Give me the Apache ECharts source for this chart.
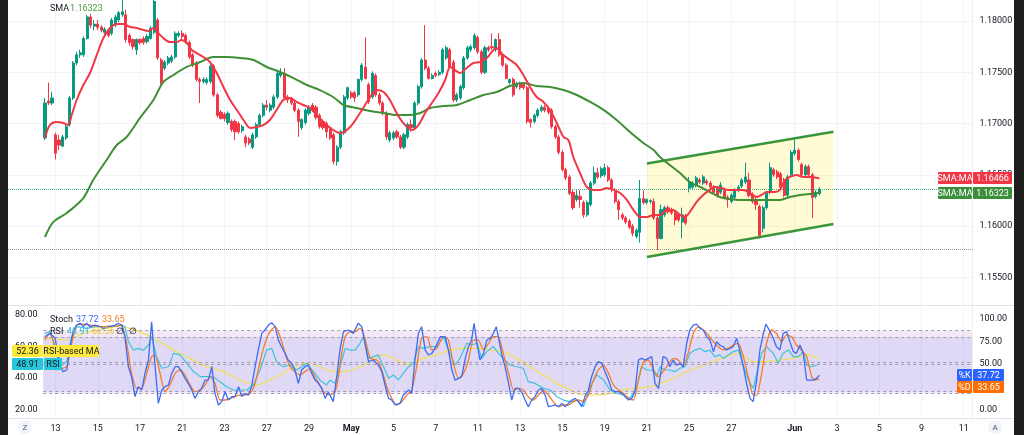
<!DOCTYPE html>
<html><head><meta charset="utf-8">
<script src="https://cdn.jsdelivr.net/npm/echarts@6/dist/echarts.min.js"></script>
<style>html,body{margin:0;padding:0;background:#fff;overflow:hidden}#c{width:1024px;height:435px}</style>
</head><body><div id="c"></div>
<script>
// ---------- DATA ----------
const N_SLOTS = 274;      // bar slots on the time axis (incl. future space)
const FIRST_BAR = 10;     // slot index of first visible candle
const tickIndex = [13,25,37,49,61,73,85,97,109,121,133,145,157,169,181,193,205,223,235,247,259,271];
const tickLabel = ['13','15','17','21','23','27','29','May','5','7','11','13','15','19','21','25','27','Jun','3','5','9','11'];
const monthLabels = ['May','Jun'];

// 4h candles: [open, close, low, high]
const ohlc = [
[1.1686,1.1720,1.1684,1.1725],[1.1722,1.1720,1.1718,1.1740],[1.1720,1.1725,1.1718,1.1731],[1.1689,1.1671,1.1665,1.1691],[1.1684,1.1679,1.1674,1.1689],
[1.1678,1.1687,1.1677,1.1689],[1.1686,1.1697,1.1684,1.1699],[1.1699,1.1725,1.1697,1.1727],[1.1725,1.1759,1.1723,1.1761],[1.1759,1.1767,1.1757,1.1770],
[1.1767,1.1769,1.1764,1.1772],[1.1767,1.1783,1.1765,1.1785],[1.1783,1.1804,1.1782,1.1806],[1.1804,1.1796,1.1793,1.1807],[1.1795,1.1797,1.1791,1.1801],
[1.1797,1.1794,1.1791,1.1801],[1.1794,1.1791,1.1789,1.1796],[1.1789,1.1792,1.1787,1.1794],[1.1791,1.1786,1.1784,1.1793],[1.1788,1.1801,1.1786,1.1803],
[1.1796,1.1804,1.1794,1.1806],[1.1801,1.1808,1.1799,1.1810],[1.1806,1.1809,1.1804,1.1821],[1.1806,1.1782,1.1779,1.1811],[1.1786,1.1779,1.1776,1.1788],
[1.1782,1.1775,1.1772,1.1783],[1.1772,1.1782,1.1767,1.1783],[1.1782,1.1779,1.1777,1.1783],[1.1783,1.1779,1.1777,1.1785],[1.1780,1.1785,1.1778,1.1787],
[1.1783,1.1793,1.1782,1.1795],[1.1789,1.1819,1.1787,1.1824],[1.1801,1.1764,1.1762,1.1803],[1.1762,1.1740,1.1738,1.1764],[1.1754,1.1760,1.1752,1.1762],
[1.1759,1.1764,1.1757,1.1766],[1.1761,1.1765,1.1759,1.1767],[1.1765,1.1788,1.1763,1.1790],[1.1786,1.1788,1.1784,1.1790],[1.1788,1.1785,1.1782,1.1791],
[1.1786,1.1780,1.1778,1.1788],[1.1779,1.1765,1.1763,1.1781],[1.1767,1.1757,1.1755,1.1769],[1.1759,1.1743,1.1741,1.1761],[1.1743,1.1741,1.1720,1.1745],
[1.1741,1.1743,1.1739,1.1745],[1.1740,1.1743,1.1738,1.1745],[1.1741,1.1756,1.1739,1.1758],[1.1756,1.1728,1.1726,1.1758],[1.1728,1.1708,1.1706,1.1730],
[1.1711,1.1705,1.1704,1.1713],[1.1709,1.1705,1.1702,1.1711],[1.1701,1.1710,1.1699,1.1712],[1.1702,1.1694,1.1692,1.1704],[1.1702,1.1692,1.1684,1.1704],
[1.1700,1.1692,1.1690,1.1702],[1.1693,1.1697,1.1691,1.1699],[1.1687,1.1681,1.1677,1.1689],[1.1685,1.1681,1.1679,1.1687],[1.1677,1.1689,1.1675,1.1691],
[1.1687,1.1699,1.1685,1.1701],[1.1699,1.1708,1.1697,1.1710],[1.1708,1.1718,1.1706,1.1720],[1.1718,1.1716,1.1713,1.1723],[1.1713,1.1718,1.1711,1.1720],
[1.1716,1.1726,1.1714,1.1728],[1.1726,1.1749,1.1724,1.1751],[1.1747,1.1750,1.1745,1.1754],[1.1749,1.1725,1.1723,1.1754],[1.1726,1.1723,1.1720,1.1728],
[1.1724,1.1720,1.1718,1.1726],[1.1720,1.1713,1.1711,1.1722],[1.1713,1.1702,1.1687,1.1715],[1.1696,1.1704,1.1694,1.1705],[1.1701,1.1713,1.1699,1.1715],
[1.1710,1.1716,1.1708,1.1718],[1.1718,1.1713,1.1711,1.1720],[1.1716,1.1706,1.1704,1.1718],[1.1708,1.1697,1.1695,1.1710],[1.1702,1.1696,1.1694,1.1704],
[1.1700,1.1692,1.1686,1.1702],[1.1696,1.1686,1.1684,1.1698],[1.1689,1.1663,1.1660,1.1691],[1.1663,1.1677,1.1659,1.1679],[1.1677,1.1692,1.1675,1.1694],
[1.1691,1.1726,1.1689,1.1728],[1.1725,1.1735,1.1723,1.1736],[1.1730,1.1726,1.1724,1.1732],[1.1730,1.1725,1.1721,1.1732],[1.1728,1.1743,1.1726,1.1744],
[1.1743,1.1757,1.1741,1.1759],[1.1755,1.1744,1.1743,1.1784],[1.1738,1.1721,1.1719,1.1740],[1.1726,1.1749,1.1724,1.1751],[1.1747,1.1728,1.1726,1.1749],
[1.1728,1.1720,1.1718,1.1730],[1.1720,1.1710,1.1708,1.1722],[1.1710,1.1687,1.1684,1.1712],[1.1684,1.1691,1.1682,1.1693],[1.1686,1.1691,1.1684,1.1693],
[1.1692,1.1687,1.1685,1.1694],[1.1687,1.1677,1.1675,1.1689],[1.1677,1.1689,1.1675,1.1691],[1.1687,1.1699,1.1685,1.1701],[1.1699,1.1696,1.1692,1.1704],
[1.1696,1.1720,1.1694,1.1722],[1.1720,1.1736,1.1718,1.1738],[1.1736,1.1762,1.1734,1.1764],[1.1762,1.1754,1.1752,1.1796],[1.1754,1.1744,1.1743,1.1756],
[1.1744,1.1747,1.1743,1.1749],[1.1749,1.1747,1.1745,1.1751],[1.1748,1.1750,1.1746,1.1752],[1.1750,1.1772,1.1748,1.1774],[1.1764,1.1774,1.1762,1.1776],
[1.1772,1.1755,1.1753,1.1774],[1.1760,1.1723,1.1721,1.1762],[1.1723,1.1728,1.1721,1.1730],[1.1725,1.1736,1.1723,1.1738],[1.1735,1.1764,1.1733,1.1766],
[1.1764,1.1774,1.1762,1.1776],[1.1772,1.1775,1.1770,1.1777],[1.1774,1.1786,1.1772,1.1788],[1.1784,1.1770,1.1768,1.1786],[1.1770,1.1750,1.1748,1.1772],
[1.1750,1.1774,1.1748,1.1776],[1.1774,1.1772,1.1770,1.1776],[1.1775,1.1774,1.1772,1.1788],[1.1772,1.1782,1.1770,1.1783],[1.1782,1.1767,1.1765,1.1788],
[1.1767,1.1757,1.1755,1.1769],[1.1757,1.1744,1.1743,1.1759],[1.1740,1.1743,1.1738,1.1744],[1.1743,1.1728,1.1726,1.1745],[1.1736,1.1739,1.1734,1.1741],
[1.1739,1.1735,1.1733,1.1741],[1.1738,1.1735,1.1733,1.1740],[1.1735,1.1702,1.1700,1.1737],[1.1704,1.1701,1.1696,1.1705],[1.1702,1.1708,1.1700,1.1710],
[1.1708,1.1713,1.1706,1.1715],[1.1713,1.1716,1.1711,1.1718],[1.1716,1.1713,1.1711,1.1718],[1.1715,1.1711,1.1709,1.1717],[1.1713,1.1697,1.1695,1.1715],
[1.1697,1.1687,1.1685,1.1699],[1.1687,1.1672,1.1670,1.1689],[1.1672,1.1655,1.1653,1.1674],[1.1655,1.1647,1.1645,1.1657],[1.1648,1.1632,1.1630,1.1650],
[1.1633,1.1618,1.1616,1.1635],[1.1626,1.1630,1.1624,1.1635],[1.1629,1.1626,1.1618,1.1635],[1.1623,1.1611,1.1608,1.1625],[1.1611,1.1623,1.1609,1.1625],
[1.1621,1.1642,1.1619,1.1644],[1.1642,1.1652,1.1640,1.1658],[1.1652,1.1648,1.1646,1.1657],[1.1649,1.1656,1.1647,1.1658],[1.1650,1.1657,1.1648,1.1661],
[1.1657,1.1645,1.1643,1.1659],[1.1645,1.1637,1.1633,1.1647],[1.1635,1.1624,1.1622,1.1637],[1.1624,1.1616,1.1606,1.1626],[1.1611,1.1608,1.1606,1.1613],
[1.1608,1.1604,1.1602,1.1610],[1.1605,1.1599,1.1597,1.1607],[1.1600,1.1593,1.1590,1.1602],[1.1590,1.1596,1.1588,1.1598],[1.1594,1.1627,1.1584,1.1645],
[1.1627,1.1623,1.1621,1.1635],[1.1623,1.1626,1.1621,1.1627],[1.1624,1.1625,1.1622,1.1626],[1.1624,1.1608,1.1606,1.1627],[1.1608,1.1588,1.1577,1.1610],
[1.1588,1.1616,1.1587,1.1621],[1.1611,1.1618,1.1609,1.1620],[1.1618,1.1614,1.1612,1.1620],[1.1616,1.1613,1.1611,1.1618],[1.1613,1.1606,1.1601,1.1615],
[1.1611,1.1606,1.1604,1.1613],[1.1604,1.1611,1.1588,1.1618],[1.1610,1.1603,1.1601,1.1612],[1.1637,1.1643,1.1633,1.1648],[1.1638,1.1642,1.1636,1.1644],
[1.1640,1.1647,1.1638,1.1649],[1.1645,1.1643,1.1641,1.1647],[1.1642,1.1648,1.1640,1.1650],[1.1644,1.1642,1.1640,1.1646],[1.1642,1.1638,1.1636,1.1644],
[1.1638,1.1633,1.1631,1.1640],[1.1637,1.1630,1.1628,1.1639],[1.1633,1.1640,1.1631,1.1643],[1.1635,1.1628,1.1626,1.1637],[1.1628,1.1626,1.1618,1.1630],
[1.1624,1.1630,1.1622,1.1632],[1.1628,1.1635,1.1626,1.1637],[1.1635,1.1638,1.1633,1.1640],[1.1639,1.1645,1.1637,1.1647],[1.1643,1.1648,1.1641,1.1662],
[1.1645,1.1630,1.1628,1.1652],[1.1631,1.1624,1.1622,1.1633],[1.1626,1.1621,1.1616,1.1628],[1.1619,1.1591,1.1588,1.1621],[1.1598,1.1618,1.1594,1.1620],
[1.1618,1.1632,1.1616,1.1634],[1.1633,1.1657,1.1631,1.1662],[1.1655,1.1650,1.1648,1.1657],[1.1653,1.1648,1.1646,1.1655],[1.1651,1.1638,1.1636,1.1653],
[1.1645,1.1630,1.1628,1.1647],[1.1630,1.1648,1.1628,1.1650],[1.1650,1.1672,1.1648,1.1674],[1.1671,1.1674,1.1669,1.1684],[1.1674,1.1665,1.1663,1.1676],
[1.1660,1.1650,1.1648,1.1662],[1.1650,1.1658,1.1648,1.1660],[1.1658,1.1650,1.1648,1.1660],[1.1650,1.1628,1.1608,1.1652],[1.1629,1.1633,1.1627,1.1635],
[1.1632,1.1636,1.1630,1.1638]
];

// moving averages [bar index, price]
const smaFast = [[10.0,1.16860],[11.4,1.16986],[13.3,1.17016],[15.2,1.17006],[16.6,1.16986],[17.6,1.17084],[19.0,1.17230],[20.9,1.17376],[22.8,1.17493],[24.7,1.17668],[26.6,1.17834],[28.5,1.17932],[30.4,1.17971],[32.3,1.17971],[34.2,1.17942],[36.1,1.17932],[38.0,1.17912],[39.4,1.17903],[40.8,1.17932],[42.2,1.17883],[43.6,1.17834],[45.5,1.17795],[47.4,1.17795],[48.8,1.17815],[50.3,1.17786],[51.7,1.17717],[53.1,1.17688],[55.0,1.17649],[56.9,1.17600],[58.8,1.17493],[60.7,1.17357],[62.6,1.17230],[64.5,1.17133],[66.4,1.17035],[68.3,1.16957],[70.1,1.16967],[72.0,1.16986],[73.9,1.17035],[75.8,1.17133],[77.7,1.17230],[79.6,1.17249],[81.5,1.17211],[83.4,1.17181],[85.3,1.17152],[87.2,1.17084],[89.1,1.17016],[91.0,1.16957],[93.8,1.16908],[96.7,1.16967],[99.5,1.17103],[102.4,1.17259],[104.3,1.17327],[106.2,1.17308],[108.0,1.17230],[109.9,1.17103],[111.8,1.17006],[114.2,1.16938],[116.1,1.16986],[118.0,1.17103],[119.9,1.17201],[121.8,1.17298],[123.7,1.17425],[125.1,1.17552],[126.5,1.17522],[127.9,1.17493],[129.8,1.17542],[131.7,1.17591],[133.6,1.17600],[135.5,1.17639],[137.4,1.17717],[138.3,1.17737],[140.2,1.17668],[142.1,1.17620],[144.0,1.17571],[145.9,1.17474],[147.8,1.17357],[149.7,1.17259],[151.6,1.17211],[153.5,1.17133],[155.4,1.17006],[157.3,1.16869],[158.7,1.16840],[160.1,1.16674],[162.0,1.16518],[163.9,1.16382],[165.8,1.16353],[167.7,1.16353],[169.6,1.16372],[171.5,1.16353],[173.4,1.16323],[175.3,1.16255],[177.2,1.16157],[179.1,1.16089],[181.0,1.16089],[182.9,1.16109],[184.8,1.16109],[186.6,1.16157],[188.5,1.16157],[190.4,1.16109],[191.8,1.16089],[193.2,1.16138],[195.1,1.16235],[197.0,1.16304],[198.9,1.16353],[200.3,1.16382],[202.2,1.16372],[204.1,1.16353],[206.0,1.16353],[208.4,1.16353],[210.3,1.16323],[212.2,1.16284],[213.6,1.16304],[215.0,1.16333],[217.4,1.16333],[218.8,1.16353],[220.2,1.16450],[221.6,1.16479],[223.5,1.16499],[225.4,1.16479],[227.3,1.16479],[230.0,1.16466]];
const smaSlow = [[10.0,1.15894],[12.4,1.16041],[16.2,1.16128],[20.9,1.16274],[23.7,1.16450],[27.5,1.16645],[30.4,1.16791],[33.2,1.16869],[37.0,1.17055],[40.8,1.17230],[43.6,1.17405],[46.5,1.17474],[50.3,1.17552],[54.1,1.17600],[57.8,1.17649],[61.6,1.17649],[65.4,1.17639],[69.2,1.17620],[73.0,1.17552],[76.8,1.17503],[80.6,1.17444],[84.4,1.17376],[88.1,1.17327],[91.9,1.17259],[94.8,1.17181],[98.6,1.17152],[102.4,1.17123],[106.2,1.17103],[109.9,1.17084],[113.7,1.17084],[116.6,1.17103],[119.4,1.17152],[123.2,1.17172],[127.0,1.17181],[130.8,1.17230],[134.6,1.17279],[138.3,1.17308],[142.1,1.17366],[145.9,1.17396],[149.7,1.17366],[153.5,1.17357],[157.3,1.17327],[161.1,1.17279],[164.9,1.17211],[168.7,1.17133],[172.4,1.17035],[176.2,1.16918],[180.0,1.16811],[182.9,1.16742],[184.7,1.16674],[187.5,1.16596],[190.4,1.16518],[193.2,1.16430],[196.1,1.16382],[198.9,1.16333],[201.7,1.16284],[204.6,1.16265],[207.4,1.16255],[210.3,1.16255],[213.1,1.16255],[216.0,1.16255],[218.8,1.16255],[221.6,1.16284],[224.5,1.16304],[227.3,1.16314],[230.0,1.16323]];

// drawn channel [bar index] / prices
const channelX = [181, 234];
const channelUpper = [1.1661, 1.1692];
const channelLower = [1.1570, 1.1602];

// Stochastic %K / %D and RSI / RSI-based MA [bar index, value]
const stochK = [[10.0,80.4],[11.4,84.1],[12.9,78.6],[14.3,47.2],[15.2,41.7],[16.2,43.5],[17.1,69.3],[18.1,87.8],[19.0,93.3],[20.0,95.2],[20.9,91.5],[21.8,95.2],[22.8,91.5],[24.2,93.3],[25.6,91.5],[26.6,89.6],[28.5,91.5],[29.9,93.3],[30.8,95.2],[31.8,93.3],[32.7,80.4],[33.7,47.2],[34.6,36.1],[35.6,14.0],[36.5,25.1],[37.5,21.4],[38.4,39.8],[39.4,54.6],[40.3,97.0],[41.3,47.2],[42.2,6.6],[43.2,21.4],[44.1,25.1],[45.1,26.9],[46.0,39.8],[47.0,47.2],[47.9,47.2],[48.8,41.7],[49.8,34.3],[50.7,28.8],[51.7,21.4],[52.6,12.1],[53.6,19.5],[54.5,23.2],[55.5,32.4],[56.4,32.4],[57.4,47.2],[58.3,17.7],[59.3,4.8],[60.2,8.5],[61.2,19.5],[62.1,10.3],[63.1,14.0],[64.0,14.0],[65.0,25.1],[65.9,14.0],[66.8,17.7],[67.8,15.8],[68.7,25.1],[69.7,47.2],[70.6,65.7],[71.6,84.1],[72.5,87.8],[73.5,93.3],[74.4,95.9],[75.4,91.5],[76.3,76.7],[77.2,69.3],[78.2,62.0],[79.1,54.6],[80.1,50.9],[81.0,43.5],[82.0,28.8],[82.9,43.5],[83.9,47.2],[84.8,49.0],[85.8,39.8],[86.7,32.4],[87.7,28.8],[88.6,23.2],[89.6,12.1],[90.5,19.5],[91.9,8.5],[92.9,36.1],[93.8,65.7],[94.8,86.0],[96.2,87.8],[97.6,84.1],[99.0,95.2],[100.0,91.5],[100.9,73.0],[101.9,52.7],[103.3,54.6],[104.7,49.0],[105.7,41.7],[106.6,26.9],[107.6,12.1],[108.5,10.3],[109.5,4.8],[110.9,6.6],[111.8,15.8],[113.3,21.4],[114.2,17.7],[115.1,54.6],[116.1,84.1],[117.0,91.5],[118.0,65.7],[118.9,60.1],[119.9,62.0],[120.8,67.5],[122.3,80.4],[123.7,80.4],[124.6,65.7],[125.6,43.5],[126.5,32.4],[127.5,34.3],[128.4,36.1],[129.4,56.4],[130.3,69.3],[131.2,76.7],[131.9,95.2],[132.7,73.0],[133.6,54.6],[134.6,62.0],[135.5,76.7],[136.5,78.6],[137.4,84.1],[138.2,91.5],[138.8,80.4],[139.8,60.1],[140.7,47.2],[141.7,28.8],[142.6,10.3],[143.6,23.2],[144.5,23.2],[145.4,19.5],[146.4,10.3],[147.3,2.9],[148.3,10.3],[149.2,14.0],[150.2,21.4],[151.1,23.2],[152.1,15.8],[153.0,2.9],[154.0,3.7],[154.9,4.8],[155.9,2.9],[156.8,6.6],[157.8,2.9],[158.7,6.6],[159.7,10.3],[160.6,12.1],[161.5,8.5],[162.5,2.9],[163.4,14.0],[164.4,21.4],[165.3,36.1],[166.3,47.2],[167.2,52.7],[168.2,50.9],[169.1,41.7],[170.1,32.4],[171.0,21.4],[172.0,19.5],[172.9,19.5],[173.9,17.7],[174.8,14.0],[175.8,10.3],[176.7,12.1],[177.6,19.5],[178.6,54.6],[179.5,56.4],[180.5,54.6],[181.4,56.4],[182.4,58.3],[183.3,28.8],[184.3,23.2],[185.6,58.3],[186.6,56.4],[187.5,47.2],[188.5,54.6],[189.4,49.0],[190.4,50.9],[191.3,47.2],[192.3,73.0],[193.2,87.8],[194.2,93.3],[195.1,94.4],[196.1,89.6],[197.0,87.8],[198.0,80.4],[198.9,76.7],[199.9,63.8],[200.8,74.9],[201.7,71.2],[202.7,69.3],[203.6,65.7],[204.6,67.5],[205.5,69.3],[206.5,78.6],[207.4,65.7],[208.4,47.2],[209.3,28.8],[210.3,12.1],[211.2,8.5],[212.2,32.4],[213.1,65.7],[214.1,84.1],[214.8,94.4],[216.0,86.0],[216.9,78.6],[217.8,69.3],[218.8,65.7],[219.7,84.1],[220.7,86.0],[221.6,74.9],[222.6,63.8],[223.5,62.0],[224.5,71.2],[225.4,62.0],[226.4,32.4],[227.3,32.4],[228.3,32.4],[229.2,34.3],[230.0,37.72]];
const stochD = [[10.0,76.7],[11.4,84.1],[13.3,62.0],[14.8,45.4],[16.2,47.2],[17.6,73.0],[19.0,93.3],[20.9,94.4],[22.8,93.3],[24.7,92.2],[26.6,91.5],[28.5,92.2],[30.4,92.2],[31.8,93.3],[33.2,73.0],[34.6,39.8],[36.1,23.2],[37.5,23.2],[38.9,39.8],[40.3,58.3],[41.3,60.1],[42.7,39.8],[44.1,19.5],[45.5,26.9],[47.0,39.8],[48.4,43.5],[49.8,38.0],[51.2,26.9],[52.6,19.5],[54.1,21.4],[55.5,26.9],[56.9,36.1],[58.3,28.8],[59.7,10.3],[61.2,10.3],[62.6,12.1],[64.0,14.0],[65.4,15.8],[66.8,15.8],[68.3,17.7],[69.7,28.8],[71.1,52.7],[72.5,73.0],[73.9,86.0],[75.4,91.5],[76.8,80.4],[78.2,62.0],[79.6,47.2],[81.0,41.7],[82.5,38.0],[83.9,41.7],[85.3,45.4],[86.7,36.1],[88.1,26.9],[89.6,17.7],[91.0,15.8],[92.4,19.5],[93.4,36.1],[94.3,62.0],[95.3,80.4],[96.7,86.0],[98.1,86.0],[99.5,89.6],[100.9,78.6],[102.4,56.4],[104.3,54.6],[105.7,43.5],[107.1,25.1],[108.5,12.1],[109.9,4.8],[111.4,8.5],[112.8,15.8],[114.2,21.4],[115.6,47.2],[117.0,78.6],[118.5,80.4],[119.9,65.7],[121.3,67.5],[123.2,80.4],[124.6,76.7],[126.0,50.9],[127.5,34.3],[128.9,39.8],[130.3,54.6],[131.7,76.7],[133.1,76.7],[134.6,65.7],[136.0,73.0],[137.4,80.4],[138.8,80.4],[140.2,62.0],[141.7,39.8],[143.1,21.4],[144.5,23.2],[145.9,21.4],[147.3,14.0],[148.8,10.3],[150.2,15.8],[151.6,21.4],[153.0,15.8],[154.4,8.5],[155.9,2.9],[157.3,4.8],[158.7,4.8],[160.1,8.5],[161.5,10.3],[163.0,8.5],[164.4,15.8],[165.8,32.4],[167.2,43.5],[168.7,49.0],[170.1,39.8],[171.5,26.9],[172.9,21.4],[174.3,17.7],[175.8,12.1],[177.2,10.3],[178.6,32.4],[180.0,52.7],[181.4,54.6],[182.9,43.5],[184.3,36.1],[186.6,47.2],[188.5,56.4],[189.9,54.6],[191.3,47.2],[192.7,62.0],[194.2,84.1],[195.6,91.5],[197.0,87.8],[198.4,82.3],[199.9,74.9],[201.3,69.3],[202.7,65.7],[204.1,67.5],[205.5,71.2],[207.0,73.0],[208.4,58.3],[209.8,36.1],[211.2,15.8],[212.2,15.8],[213.6,39.8],[215.0,73.0],[216.4,87.8],[217.8,84.1],[219.3,74.9],[220.7,82.3],[222.1,80.4],[223.5,71.2],[224.9,65.7],[226.4,58.3],[227.8,36.1],[228.7,32.4],[230.0,33.65]];
const rsi = [[10.0,68.3],[11.4,69.4],[13.3,57.7],[14.8,48.2],[16.2,50.3],[17.6,66.2],[19.0,72.6],[21.8,71.5],[24.7,72.6],[27.5,72.6],[29.9,73.0],[31.8,73.6],[32.7,72.6],[33.7,63.0],[35.1,57.7],[36.5,58.8],[38.0,57.7],[39.4,60.9],[40.3,66.2],[41.7,53.5],[43.2,46.1],[45.1,47.1],[46.5,55.6],[48.4,54.6],[50.3,49.3],[52.2,44.0],[54.1,40.8],[56.0,40.8],[57.8,40.8],[59.7,37.6],[61.6,34.4],[63.5,32.3],[65.4,32.3],[67.3,32.3],[69.2,35.5],[71.1,45.0],[73.0,57.7],[74.4,58.8],[75.8,50.3],[77.7,47.1],[79.6,48.2],[81.5,45.0],[82.9,47.1],[84.4,49.3],[86.3,44.0],[88.1,38.7],[90.0,35.5],[91.0,38.7],[92.4,36.5],[93.8,47.1],[95.3,58.8],[96.7,57.7],[98.1,57.7],[99.5,62.0],[100.5,66.2],[101.9,52.4],[103.3,53.5],[104.7,54.6],[106.2,47.1],[107.6,39.7],[109.0,41.8],[110.4,38.7],[111.8,42.9],[113.3,47.1],[114.7,49.3],[116.1,59.9],[117.5,58.8],[119.4,59.9],[121.3,59.9],[123.2,66.2],[124.6,57.7],[126.5,48.2],[127.9,52.4],[129.8,62.0],[131.2,60.9],[132.7,62.0],[134.1,52.4],[135.5,56.7],[137.4,59.9],[138.8,55.6],[140.2,52.4],[142.1,48.2],[144.0,47.1],[145.9,46.1],[147.3,37.6],[149.2,36.5],[151.6,33.4],[153.5,32.3],[155.4,28.0],[157.3,25.9],[159.2,24.9],[161.1,25.9],[163.0,21.7],[164.9,34.4],[166.8,41.8],[168.7,38.7],[170.5,32.3],[172.4,30.2],[174.3,29.1],[176.2,27.0],[178.1,34.4],[179.5,47.1],[181.0,45.0],[182.4,45.0],[183.8,40.8],[184.7,47.1],[186.1,45.0],[187.5,45.0],[189.0,44.0],[190.4,46.1],[191.8,47.1],[193.2,55.6],[194.6,57.7],[196.1,58.8],[197.5,56.7],[198.9,57.7],[200.3,53.5],[201.7,54.6],[202.7,52.4],[204.1,54.6],[205.5,56.7],[207.0,57.7],[208.4,48.2],[209.8,38.7],[211.2,33.4],[212.2,42.9],[213.6,55.6],[215.0,59.9],[216.9,55.6],[218.3,49.3],[219.7,55.6],[221.2,57.7],[222.6,53.5],[224.0,53.5],[225.4,56.7],[226.4,48.2],[227.8,47.1],[229.2,48.2],[230.0,48.91]];
const rsiMa = [[10.0,65.2],[16.2,64.1],[20.9,68.3],[25.6,70.5],[31.3,73.0],[34.2,71.5],[38.0,68.3],[41.7,64.1],[46.5,57.7],[51.2,52.4],[56.0,47.1],[60.7,44.0],[65.4,38.7],[70.1,35.5],[73.0,37.6],[76.8,41.8],[80.6,47.1],[84.4,49.3],[88.1,47.1],[91.9,44.0],[94.8,44.0],[98.6,46.1],[102.4,50.3],[106.2,54.6],[109.9,51.4],[113.7,48.2],[117.5,52.4],[121.3,54.6],[125.1,57.7],[128.9,58.8],[132.7,58.8],[136.5,57.7],[140.2,56.7],[144.0,52.4],[147.8,47.1],[151.6,41.8],[155.4,36.5],[159.2,32.3],[163.0,29.1],[166.8,29.1],[170.5,30.2],[174.3,32.3],[178.1,33.4],[181.9,34.4],[184.7,36.5],[188.5,39.7],[192.3,44.0],[196.1,47.1],[199.9,50.3],[203.6,53.5],[207.4,55.6],[211.2,50.3],[215.0,50.3],[218.8,51.4],[222.6,52.4],[226.4,54.6],[230.0,52.36]];

// ---------- CHART ----------
const FONT = "Roboto, 'Noto Sans', sans-serif";
const TXT = '#131722';
const UP = '#089981', DOWN = '#f23645';
const GRID_L = 8, GRID_R = 51.5;
const cats = Array.from({length: N_SLOTS}, (_, i) => String(i));
const candleData = ohlc.map((d, k) => [FIRST_BAR + k, d[0], d[1], d[2], d[3]]);
const lastClose = ohlc[ohlc.length - 1][1];
const minLow = Math.min(...ohlc.map(d => d[2]));
const bandL = FIRST_BAR - 0.5, bandR = N_SLOTS - 0.5;
const isTick = (i) => tickIndex.indexOf(Number(i)) >= 0;
const dash = {color: '#a29db4', type: [3, 3], width: 1};

const chart = echarts.init(document.getElementById('c'), null, {renderer: 'canvas'});
chart.setOption({
  animation: false,
  backgroundColor: '#ffffff',
  grid: [
    {left: GRID_L, right: GRID_R, top: 0, height: 328.7},
    {left: GRID_L, right: GRID_R, top: 299.28, height: 125.76},
    {left: GRID_L, right: GRID_R, top: 296.4, height: 135.5},
    {left: GRID_L, right: GRID_R, top: 0, height: 418}
  ],
  xAxis: [
    {gridIndex: 0, type: 'category', data: cats, show: false, boundaryGap: true},
    {gridIndex: 0, type: 'value', min: -0.5, max: N_SLOTS - 0.5, show: false},
    {gridIndex: 1, type: 'value', min: -0.5, max: N_SLOTS - 0.5, show: false},
    {gridIndex: 2, type: 'value', min: -0.5, max: N_SLOTS - 0.5, show: false},
    {gridIndex: 3, type: 'category', data: cats, boundaryGap: true,
      axisLine: {show: false}, axisTick: {show: false, alignWithLabel: true},
      axisLabel: {interval: (i) => isTick(i), margin: 6, color: TXT, fontSize: 9, fontFamily: FONT,
        formatter: (v, i) => { const k = tickIndex.indexOf(Number(v)); if (k < 0) return ''; const t = tickLabel[k]; return monthLabels.indexOf(t) >= 0 ? '{m|' + t + '}' : t; },
        rich: {m: {fontWeight: 'bold', fontSize: 9, color: TXT, fontFamily: FONT}}},
      splitLine: {show: true, interval: (i) => isTick(i), alignWithLabel: true, lineStyle: {color: '#f0f3fa', width: 1}}}
  ],
  yAxis: [
    {gridIndex: 0, type: 'value', position: 'right', min: 1.15, max: 1.18205, interval: 0.005,
      axisLine: {show: false}, axisTick: {show: false},
      axisLabel: {margin: 7, color: TXT, fontSize: 9, fontFamily: FONT, showMinLabel: false, showMaxLabel: false,
        formatter: (v) => (v < 1.152 || v > 1.181) ? '' : v.toFixed(5)},
      splitLine: {show: true, showMinLine: false, showMaxLine: false, lineStyle: {color: '#f0f3fa'}}},
    {gridIndex: 1, type: 'value', position: 'left', min: 10, max: 90, interval: 10,
      axisLine: {show: false}, axisTick: {show: false}, splitLine: {show: false},
      axisLabel: {inside: true, margin: 7, color: TXT, fontSize: 9, fontFamily: FONT, showMinLabel: false, showMaxLabel: false,
        formatter: (v) => { const r = Math.round(v); return (r % 20 === 0 && r > 10 && r < 90) ? r.toFixed(2) : ''; }}},
    {gridIndex: 2, type: 'value', position: 'right', min: -25, max: 125, interval: 25,
      axisLine: {show: false}, axisTick: {show: false}, splitLine: {show: false},
      axisLabel: {margin: 7, color: TXT, fontSize: 9, fontFamily: FONT,
        formatter: (v) => (v < 0 || v > 100 || v === 25) ? '' : v.toFixed(2)}},
    {gridIndex: 3, type: 'value', show: false}
  ],
  series: [
    {type: 'custom', xAxisIndex: 1, yAxisIndex: 0, z: 1, silent: true,
      data: [[channelX[0], channelUpper[0]]],
      renderItem: (params, api) => {
        const pts = [api.coord([channelX[0], channelUpper[0]]), api.coord([channelX[1], channelUpper[1]]),
                     api.coord([channelX[1], channelLower[1]]), api.coord([channelX[0], channelLower[0]])];
        return {type: 'polygon', shape: {points: pts}, style: {fill: 'rgba(255,235,59,0.22)'}};
      }},
    {type: 'candlestick', xAxisIndex: 0, yAxisIndex: 0, z: 3, barWidth: 2.6,
      encode: {x: 0, y: [1, 2, 3, 4]}, data: candleData,
      itemStyle: {color: UP, color0: DOWN, borderColor: UP, borderColor0: DOWN, borderWidth: 1},
      markLine: {silent: true, precision: 5, symbol: ['none', 'none'], label: {show: false},
        data: [
          {yAxis: lastClose, lineStyle: {color: UP, type: 'dotted', width: 1, opacity: 0.8}},
          {yAxis: minLow, lineStyle: {color: '#9598a1', type: 'dotted', width: 1}}
        ]}},
    {type: 'line', xAxisIndex: 1, yAxisIndex: 0, z: 4, data: smaSlow, showSymbol: false, smooth: 0.3,
      lineStyle: {color: '#3f8f35', width: 2}},
    {type: 'line', xAxisIndex: 1, yAxisIndex: 0, z: 5, data: smaFast, showSymbol: false, smooth: 0.3,
      lineStyle: {color: '#f23645', width: 2}},
    {type: 'line', xAxisIndex: 1, yAxisIndex: 0, z: 6, data: [[channelX[0], channelUpper[0]], [channelX[1], channelUpper[1]]],
      showSymbol: false, lineStyle: {color: '#3a963a', width: 2.5}},
    {type: 'line', xAxisIndex: 1, yAxisIndex: 0, z: 6, data: [[channelX[0], channelLower[0]], [channelX[1], channelLower[1]]],
      showSymbol: false, lineStyle: {color: '#3a963a', width: 2.5}},
    // indicator bands
    {type: 'line', xAxisIndex: 2, yAxisIndex: 1, z: 1, data: [], showSymbol: false,
      markArea: {silent: true, itemStyle: {color: 'rgba(156,39,176,0.11)'}, data: [[{coord: [bandL, 30]}, {coord: [bandR, 70]}]]},
      markLine: {silent: true, symbol: ['none', 'none'], label: {show: false}, lineStyle: dash,
        data: [[{coord: [bandL, 70]}, {coord: [bandR, 70]}], [{coord: [bandL, 50]}, {coord: [bandR, 50]}], [{coord: [bandL, 30]}, {coord: [bandR, 30]}]]}},
    {type: 'line', xAxisIndex: 3, yAxisIndex: 2, z: 1, data: [], showSymbol: false,
      markArea: {silent: true, itemStyle: {color: 'rgba(60,110,245,0.11)'}, data: [[{coord: [bandL, 20]}, {coord: [bandR, 80]}]]},
      markLine: {silent: true, symbol: ['none', 'none'], label: {show: false}, lineStyle: dash,
        data: [[{coord: [bandL, 80]}, {coord: [bandR, 80]}], [{coord: [bandL, 50]}, {coord: [bandR, 50]}], [{coord: [bandL, 20]}, {coord: [bandR, 20]}]]}},
    {type: 'line', xAxisIndex: 2, yAxisIndex: 1, z: 3, data: rsiMa, showSymbol: false, smooth: 0.3,
      lineStyle: {color: '#f2df55', width: 1.2}},
    {type: 'line', xAxisIndex: 2, yAxisIndex: 1, z: 4, data: rsi, showSymbol: false,
      lineStyle: {color: '#3cc3dc', width: 1.2}},
    {type: 'line', xAxisIndex: 3, yAxisIndex: 2, z: 5, data: stochD, showSymbol: false, smooth: 0.2,
      lineStyle: {color: '#f57a2a', width: 1.3}},
    {type: 'line', xAxisIndex: 3, yAxisIndex: 2, z: 6, data: stochK, showSymbol: false,
      lineStyle: {color: '#3d6cf3', width: 1.3}}
  ]
});

// ---------- ANNOTATIONS (labels, legends, frame) ----------
function pill(x, yc, parts) {
  const h = 12, out = [];
  let cx = x;
  parts.forEach(p => {
    out.push({type: 'rect', z: 100, shape: {x: cx, y: Math.round(yc - h / 2), width: p.w, height: h, r: 1}, style: {fill: p.bg}});
    out.push({type: 'text', z: 101, x: cx + p.w / 2, y: Math.round(yc) + 0.5,
      style: {text: p.t, fill: p.c, font: '9px ' + FONT, align: 'center', verticalAlign: 'middle', textAlign: 'center', textVerticalAlign: 'middle'}});
    cx += p.w + 1;
  });
  return out;
}
function label(x, y, t, color) {
  return {type: 'text', z: 100, x: x, y: y,
    style: {text: t, fill: color, font: '9px ' + FONT, align: 'left', verticalAlign: 'middle', textAlign: 'left', textVerticalAlign: 'middle'}};
}
const lastFast = smaFast[smaFast.length - 1][1], lastSlow = smaSlow[smaSlow.length - 1][1];
const lastK = stochK[stochK.length - 1][1], lastD = stochD[stochD.length - 1][1];
const lastR = rsi[rsi.length - 1][1], lastRM = rsiMa[rsiMa.length - 1][1];
const yF = chart.convertToPixel({yAxisIndex: 0}, lastFast);
const yS = Math.max(chart.convertToPixel({yAxisIndex: 0}, lastSlow), yF + 13);
const yK = chart.convertToPixel({yAxisIndex: 2}, lastK);
const yD = Math.max(chart.convertToPixel({yAxisIndex: 2}, lastD), yK + 12);
const yR = chart.convertToPixel({yAxisIndex: 1}, lastR);
const yRM = Math.min(chart.convertToPixel({yAxisIndex: 1}, lastRM), yR - 12.5);

const g = [];
// frame
g.push({type: 'rect', z: 90, shape: {x: 0, y: 0, width: 8, height: 435}, style: {fill: '#1e1e1e'}});
g.push({type: 'rect', z: 90, shape: {x: 1014, y: 0, width: 10, height: 435}, style: {fill: '#1e1e1e'}});
g.push({type: 'line', z: 2, shape: {x1: 8, y1: 305.5, x2: 1014, y2: 305.5}, style: {stroke: '#e0e3eb', lineWidth: 1}});
g.push({type: 'line', z: 2, shape: {x1: 8, y1: 418.5, x2: 1014, y2: 418.5}, style: {stroke: '#e0e3eb', lineWidth: 1}});
g.push({type: 'line', z: 2, shape: {x1: 972.5, y1: 0, x2: 972.5, y2: 418}, style: {stroke: '#eceef2', lineWidth: 1}});
// legends
g.push(label(50, 9, 'SMA', TXT));
g.push(label(70, 9, lastSlow.toFixed(5), '#4a9a3e'));
g.push(label(50, 320, 'Stoch', TXT));
g.push(label(76, 320, lastK.toFixed(2), '#3d6cf3'));
g.push(label(102, 320, lastD.toFixed(2), '#f57a2a'));
g.push(label(50, 332, 'RSI', TXT));
g.push(label(67, 332, lastR.toFixed(2), '#3cc3dc'));
g.push(label(92, 332, lastRM.toFixed(2), '#e8cf2a'));
g.push(label(116, 332, '\u2205', TXT));
g.push(label(129, 332, '\u2205', TXT));
// scale value pills
g.push(...pill(938, yF, [{t: 'SMA:MA', w: 34, bg: '#f23645', c: '#ffffff'}, {t: lastFast.toFixed(5), w: 39, bg: '#f23645', c: '#ffffff'}]));
g.push(...pill(938, yS, [{t: 'SMA:MA', w: 34, bg: '#3b8f3a', c: '#ffffff'}, {t: lastSlow.toFixed(5), w: 39, bg: '#3b8f3a', c: '#ffffff'}]));
g.push(...pill(957, yK, [{t: '%K', w: 15, bg: '#2962ff', c: '#ffffff'}, {t: lastK.toFixed(2), w: 31, bg: '#2962ff', c: '#ffffff'}]));
g.push(...pill(957, yD, [{t: '%D', w: 15, bg: '#ff6d00', c: '#ffffff'}, {t: lastD.toFixed(2), w: 31, bg: '#ff6d00', c: '#ffffff'}]));
g.push(...pill(12, yRM, [{t: lastRM.toFixed(2), w: 31, bg: '#ffeb3b', c: TXT}, {t: 'RSI-based MA', w: 55, bg: '#ffeb3b', c: TXT}]));
g.push(...pill(12, yR, [{t: lastR.toFixed(2), w: 31, bg: '#26c6da', c: TXT}, {t: 'RSI', w: 18, bg: '#26c6da', c: TXT}]));
// corner buttons
g.push({type: 'circle', z: 95, shape: {cx: 25, cy: 427, r: 7}, style: {fill: '#f0f3fa'}});
g.push({type: 'text', z: 96, x: 25, y: 427.5, style: {text: 'Z', fill: '#50535e', font: '8px ' + FONT, align: 'center', verticalAlign: 'middle', textAlign: 'center', textVerticalAlign: 'middle'}});
g.push({type: 'circle', z: 95, shape: {cx: 995, cy: 427, r: 7}, style: {fill: '#f0f3fa'}});
g.push({type: 'text', z: 96, x: 995, y: 427.5, style: {text: 'A', fill: '#50535e', font: '8px ' + FONT, align: 'center', verticalAlign: 'middle', textAlign: 'center', textVerticalAlign: 'middle'}});
chart.setOption({graphic: {elements: g}});
</script>
</body></html>
